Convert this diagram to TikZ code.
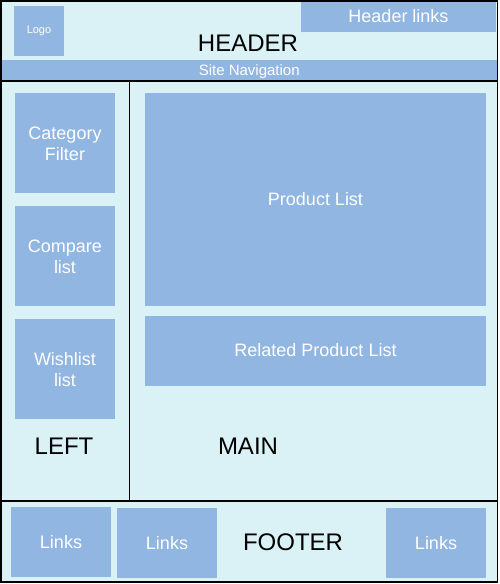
\documentclass[tikz,border=0pt]{standalone}
\usepackage{fontspec}
\setmainfont{Liberation Sans}
\definecolor{bgc}{HTML}{DAF2F5}
\definecolor{boxc}{HTML}{91B6E1}
\begin{document}
\begin{tikzpicture}[x=1pt,y=-1pt,
  blk/.style={fill=boxc,draw=none,inner sep=0pt,text=white,align=center,font=\fontsize{18}{21}\selectfont},
  one/.style={text height=15pt,text depth=3pt},
  title/.style={inner sep=0pt,text=black,font=\fontsize{24}{28}\selectfont}]
\useasboundingbox (0,0) rectangle (499,584);
% background
\path[fill=bgc] (1,1) rectangle (497.5,582);
% header elements
\node[blk,minimum width=50pt,minimum height=50pt,font=\fontsize{11}{13}\selectfont] (logo) at (39,31) {Logo};
\node[blk,one,minimum width=195pt,minimum height=31pt] (hlinks) at (398.5,16.5) {Header links};
\node[blk,minimum width=496.5pt,minimum height=20pt,font=\fontsize{15}{18}\selectfont,text height=12.5pt,text depth=2pt] (nav) at (249.25,70) {Site Navigation};
\node[title] (header) at (248,43) {HEADER};
% left column
\node[blk,minimum width=100pt,minimum height=100pt] (cat) at (65,143) {\strut Category\\Filter};
\node[blk,minimum width=100pt,minimum height=100pt] (cmp) at (65,256) {\strut Compare\\list};
\node[blk,minimum width=100pt,minimum height=100pt] (wish) at (65,369) {\strut Wishlist\\list};
\node[title] (left) at (64,446) {LEFT};
% main column
\node[blk,one,minimum width=341pt,minimum height=213pt] (plist) at (315.5,199.5) {Product List};
\node[blk,one,minimum width=341pt,minimum height=70pt] (rlist) at (315.5,350.5) {Related Product List};
\node[title] (main) at (248,446) {MAIN};
% footer
\node[blk,one,minimum width=100pt,minimum height=70pt] (l1) at (61,542) {Links};
\node[blk,one,minimum width=100pt,minimum height=70pt] (l2) at (167,543) {Links};
\node[blk,one,minimum width=100pt,minimum height=70pt] (l3) at (436,543) {Links};
\node[title] (footer) at (293,542) {FOOTER};
% borders
\draw[line width=1.6pt] (1,1) rectangle (497.5,582);
\draw[line width=1.6pt] (1,81) -- (497.5,81);
\draw[line width=1.6pt] (1,501) -- (497.5,501);
\draw[line width=1.4pt] (129.5,81) -- (129.5,501);
\end{tikzpicture}
\end{document}
